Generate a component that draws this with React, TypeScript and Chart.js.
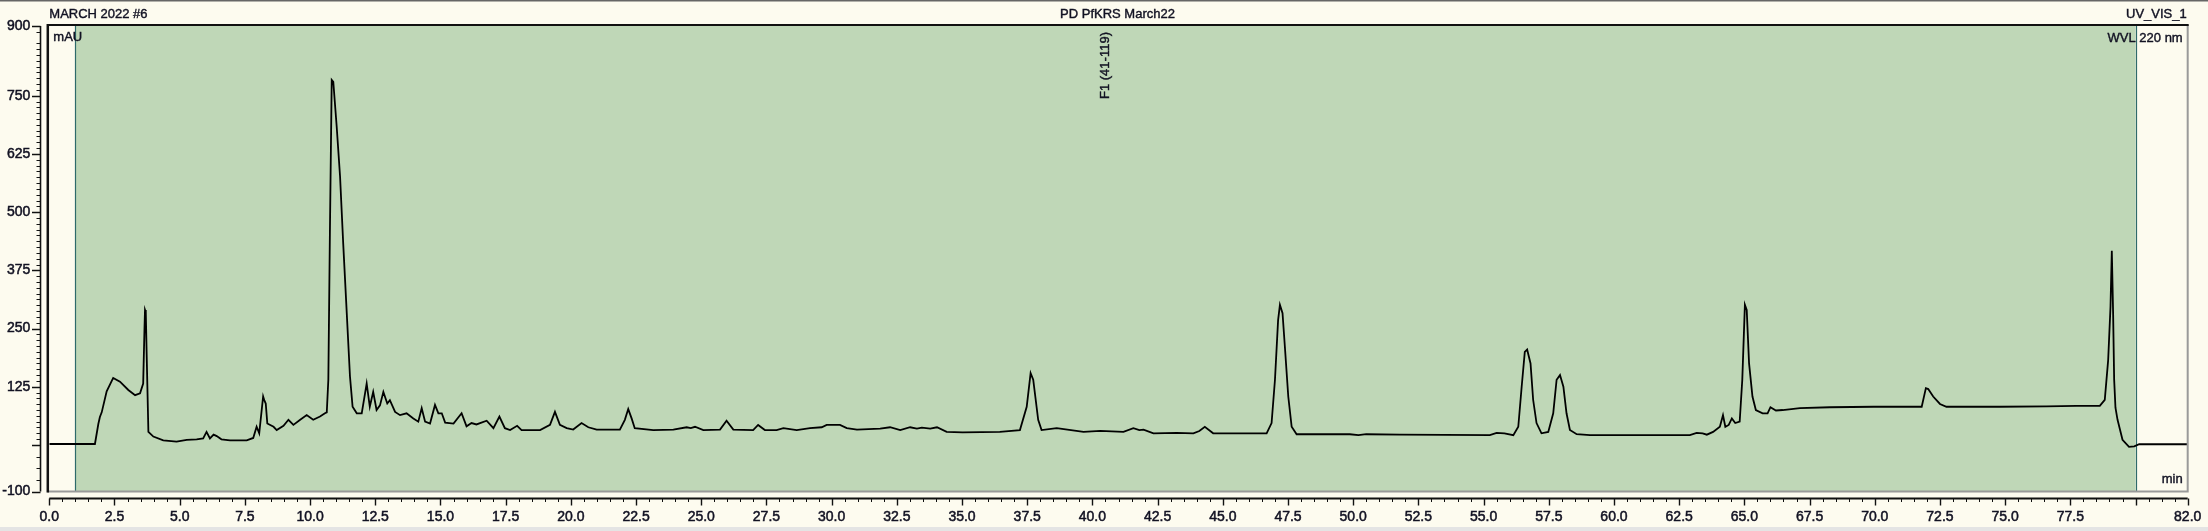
import { useEffect, useRef } from "react";
import { Chart, registerables } from "chart.js";

Chart.register(...registerables);

// ---- Data (retention time in min, absorbance in mAU) ----
const earlyTimes = [0, 1.75, 1.88, 1.94, 2.01, 2.2, 2.45, 2.71, 3.03, 3.29, 3.48, 3.6, 3.65, 3.67, 3.7, 3.73, 3.8, 3.99, 4.37, 4.88, 5.27, 5.65, 5.9, 6.03, 6.16, 6.3, 6.42, 6.6, 6.93, 7.57, 7.82, 7.95, 8.05, 8.2, 8.25, 8.3, 8.36, 8.6, 8.72, 8.98, 9.17, 9.36, 9.62, 9.87, 10.12, 10.38, 10.57, 10.64, 10.7, 10.76, 10.83, 10.89, 11.02, 11.15, 11.27, 11.4, 11.53, 11.63, 11.79, 11.98];
const earlyValues = [2, 2, 45, 60, 70, 115, 144, 136, 118, 107, 111, 132, 250, 290, 285, 204, 28, 18, 10, 7, 11, 12, 14, 28, 14, 22, 19, 12, 10, 10, 15, 39, 25, 104, 95, 89, 46, 39, 32, 41, 54, 43, 54, 64, 54, 61, 68, 70, 140, 455, 784, 780, 684, 576, 433, 290, 147, 82, 68, 68];

const midTimes = [12.17, 12.29, 12.42, 12.55, 12.68, 12.81, 12.96, 13.06, 13.26, 13.45, 13.7, 13.96, 14.15, 14.28, 14.41, 14.6, 14.79, 14.92, 15.05, 15.18, 15.5, 15.81, 16.0, 16.19, 16.38, 16.77, 17.03, 17.26, 17.47, 17.67, 17.94, 18.11, 18.82, 19.2, 19.39, 19.58, 19.84, 20.09, 20.41, 20.67, 20.99, 21.88, 22.07, 22.2, 22.33, 22.45, 23.16, 23.93, 24.44, 24.6, 24.76, 25.08, 25.72, 25.97, 26.23, 26.99, 27.18, 27.44, 27.89, 28.15, 28.66, 29.17, 29.62, 29.81, 30.32, 30.58, 30.97, 31.86, 32.24, 32.63, 33.01, 33.27, 33.46, 33.78, 34.04, 34.41, 35.02];
const midValues = [132, 82, 114, 75, 85, 114, 89, 96, 71, 64, 68, 57, 50, 79, 50, 46, 86, 68, 68, 48, 46, 68, 40, 47, 44, 52, 36, 61, 36, 32, 41, 32, 32, 43, 71, 43, 36, 33, 47, 38, 33, 33, 54, 77, 57, 36, 32, 33, 38, 36, 39, 32, 33, 52, 33, 32, 43, 32, 32, 36, 32, 36, 38, 43, 43, 36, 33, 35, 38, 32, 38, 35, 37, 35, 38, 28, 27];

const lateTimes = [36.45, 37.22, 37.48, 37.63, 37.73, 37.92, 38.05, 38.63, 39.66, 40.3, 41.19, 41.57, 41.8, 41.96, 42.34, 43.23, 43.87, 44.1, 44.31, 44.63, 46.68, 46.87, 47.0, 47.12, 47.19, 47.29, 47.38, 47.51, 47.64, 47.83, 49.87, 50.2, 50.5, 51.79, 55.24, 55.5, 55.8, 56.14, 56.33, 56.46, 56.58, 56.67, 56.8, 56.9, 57.03, 57.22, 57.48, 57.67, 57.8, 57.93, 58.06, 58.18, 58.31, 58.57, 59.08, 62.91, 63.17, 63.4, 63.56, 63.8, 64.06, 64.18, 64.27, 64.4, 64.52, 64.65, 64.82, 64.92, 65.02, 65.09, 65.18, 65.31, 65.44, 65.7, 65.89, 66.0, 66.21, 66.47];
const lateValues = [28, 32, 82, 154, 140, 54, 32, 36, 28, 30, 28, 36, 32, 33, 25, 26, 25, 30, 39, 25, 25, 47, 140, 268, 301, 283, 211, 104, 39, 23, 23, 21, 23, 22, 21, 26, 25, 21, 39, 125, 200, 205, 175, 97, 47, 25, 28, 68, 140, 150, 125, 68, 32, 23, 21, 21, 26, 25, 22, 28, 39, 64, 39, 43, 57, 47, 50, 140, 301, 290, 175, 104, 75, 68, 68, 81, 74, 75];

const tailTimes = [67.13, 68.28, 69.96, 71.8, 71.96, 72.05, 72.24, 72.5, 72.75, 74.8, 76.58, 77.73, 78.63, 78.82, 78.95, 79.04, 79.09, 79.14, 79.18, 79.23, 79.31, 79.5, 79.75, 79.95, 80.14, 82];
const tailValues = [79, 81, 82, 82, 122, 120, 104, 88, 82, 82, 83, 84, 84, 97, 182, 297, 417, 283, 140, 80, 54, 11, -4, -3, 1.5, 1.5];

const xLabelTicks = [0, 2.5, 5, 7.5, 10, 12.5, 15, 17.5, 20, 22.5, 25, 27.5, 30, 32.5, 35, 37.5, 40, 42.5, 45, 47.5, 50, 52.5, 55, 57.5, 60, 62.5, 65, 67.5, 70, 72.5, 75, 77.5, 82];
const xMajorTicks = [0, 2.5, 5, 7.5, 10, 12.5, 15, 17.5, 20, 22.5, 25, 27.5, 30, 32.5, 35, 37.5, 40, 42.5, 45, 47.5, 50, 52.5, 55, 57.5, 60, 62.5, 65, 67.5, 70, 72.5, 75, 77.5, 80, 82];
const yLabelTicks = [-100, 125, 250, 375, 500, 625, 750, 900];
const yMajorTicks = [-100, 0, 125, 250, 375, 500, 625, 750, 900];

const chartTitleLeft = "MARCH 2022 #6";
const chartTitleCenter = "PD PfKRS March22";
const chartTitleRight = "UV_VIS_1";
const yUnit = "mAU";
const xUnit = "min";
const wavelengthLabel = "WVL 220 nm";
const peakLabel = "F1 (41-119)";
const peakLabelTime = 40.5;
const greenStart = 1.0;
const greenEnd = 80.0;

const BG = "#FDFBEF";
const GREEN = "#BFD7B7";
const TEAL = "#2E6A6A";
const TEXT = "#111122";
const FONT = '"Liberation Sans", Arial, sans-serif';

function drawText(ctx: any, s: string, x: number, y: number) {
  ctx.strokeText(s, x, y);
  ctx.fillText(s, x, y);
}

const decorPlugin = {
  id: "decor",
  beforeDraw(chart: any) {
    const { ctx } = chart;
    const x = chart.scales.x;
    const y = chart.scales.y;
    ctx.save();
    ctx.fillStyle = BG;
    ctx.fillRect(0, 0, chart.width, chart.height);
    const gx0 = x.getPixelForValue(greenStart);
    const gx1 = x.getPixelForValue(greenEnd);
    const gy0 = y.getPixelForValue(900);
    const gy1 = y.getPixelForValue(-100);
    ctx.fillStyle = GREEN;
    ctx.fillRect(gx0, gy0, gx1 - gx0, gy1 - gy0);
    ctx.strokeStyle = TEAL;
    ctx.lineWidth = 1.2;
    ctx.beginPath();
    ctx.moveTo(Math.round(gx0) + 0.5, gy0);
    ctx.lineTo(Math.round(gx0) + 0.5, gy1);
    ctx.moveTo(Math.round(gx1) + 0.5, gy0);
    ctx.lineTo(Math.round(gx1) + 0.5, gy1);
    ctx.stroke();
    ctx.restore();
  },
  afterDraw(chart: any) {
    const { ctx } = chart;
    const x = chart.scales.x;
    const y = chart.scales.y;
    const left = x.getPixelForValue(0);
    const right = x.getPixelForValue(82);
    const top = y.getPixelForValue(900);
    const bottom = y.getPixelForValue(-100);
    ctx.save();
    // frame
    ctx.lineWidth = 2;
    ctx.strokeStyle = "#9a9a9a";
    ctx.beginPath();
    ctx.moveTo(right, top - 1);
    ctx.lineTo(right, bottom + 1);
    ctx.moveTo(left - 2, bottom);
    ctx.lineTo(right + 1, bottom);
    ctx.stroke();
    ctx.strokeStyle = "#111";
    ctx.beginPath();
    ctx.moveTo(left - 2, top - 1);
    ctx.lineTo(right + 1, top - 1);
    ctx.stroke();
    ctx.lineWidth = 2.5;
    ctx.beginPath();
    ctx.moveTo(left - 1.5, top - 2);
    ctx.lineTo(left - 1.5, bottom + 1);
    ctx.stroke();

    // y axis
    const ax = 40.5;
    ctx.lineWidth = 1.6;
    ctx.strokeStyle = "#111";
    ctx.beginPath();
    ctx.moveTo(ax, top);
    ctx.lineTo(ax, bottom);
    yMajorTicks.forEach((v) => {
      const py = Math.round(y.getPixelForValue(v)) + 0.5;
      ctx.moveTo(32, py);
      ctx.lineTo(ax, py);
    });
    ctx.stroke();
    ctx.lineWidth = 1;
    ctx.beginPath();
    for (let k = 1; k < 72; k++) {
      const v = k * 12.5;
      if (v % 125 === 0 || v >= 900) continue;
      const py = Math.round(y.getPixelForValue(v)) + 0.5;
      ctx.moveTo(36.5, py);
      ctx.lineTo(ax, py);
    }
    for (let v = -75; v < 0; v += 25) {
      const py = Math.round(y.getPixelForValue(v)) + 0.5;
      ctx.moveTo(36.5, py);
      ctx.lineTo(ax, py);
    }
    ctx.stroke();

    // x axis
    const ay = 498.5;
    ctx.lineWidth = 1.8;
    ctx.beginPath();
    ctx.moveTo(left, ay);
    ctx.lineTo(right, ay);
    ctx.stroke();
    ctx.lineWidth = 1.4;
    ctx.beginPath();
    xMajorTicks.forEach((t) => {
      const px = Math.round(x.getPixelForValue(t)) + 0.5;
      ctx.moveTo(px, ay);
      ctx.lineTo(px, 505.5);
    });
    ctx.stroke();
    ctx.lineWidth = 1;
    ctx.beginPath();
    for (let k = 1; k < 164; k++) {
      const t = k * 0.5;
      if (xMajorTicks.includes(t)) continue;
      const px = Math.round(x.getPixelForValue(t)) + 0.5;
      ctx.moveTo(px, ay);
      ctx.lineTo(px, 502);
    }
    ctx.stroke();

    // texts
    ctx.fillStyle = TEXT;
    ctx.strokeStyle = TEXT;
    ctx.lineWidth = 0.4;
    ctx.font = `13px ${FONT}`;
    ctx.textBaseline = "middle";
    ctx.textAlign = "left";
    drawText(ctx, chartTitleLeft, left, 14);
    drawText(ctx, yUnit, left + 4, 37);
    ctx.textAlign = "center";
    drawText(ctx, chartTitleCenter, 1117.5, 14);
    ctx.textAlign = "right";
    drawText(ctx, chartTitleRight, right - 1, 14);
    drawText(ctx, wavelengthLabel, right - 5, 38);
    drawText(ctx, xUnit, right - 5, 479);

    ctx.translate(x.getPixelForValue(peakLabelTime), 99);
    ctx.rotate(-Math.PI / 2);
    ctx.textAlign = "left";
    drawText(ctx, peakLabel, 0, 0);
    ctx.restore();

    // window border
    ctx.save();
    ctx.fillStyle = "#666";
    ctx.fillRect(0, 0, chart.width, 1.5);
    ctx.fillStyle = "#E4E4E4";
    ctx.fillRect(0, chart.height - 4, chart.width, 4);
    ctx.restore();
  },
};

export default function App() {
  const canvasRef = useRef<HTMLCanvasElement | null>(null);

  useEffect(() => {
    const canvas = canvasRef.current;
    if (!canvas) return;
    const times = [...earlyTimes, ...midTimes, ...lateTimes, ...tailTimes];
    const values = [...earlyValues, ...midValues, ...lateValues, ...tailValues];
    const points = times.map((t, i) => ({ x: t, y: values[i] }));

    const chart = new Chart(canvas, {
      type: "line",
      data: {
        datasets: [
          {
            data: points,
            borderColor: "#000",
            borderWidth: 1.8,
            pointRadius: 0,
            tension: 0,
            fill: false,
          },
        ],
      },
      options: {
        animation: false,
        responsive: false,
        maintainAspectRatio: false,
        layout: { padding: { left: 0, right: 20.3, top: 25.9, bottom: 0 } },
        plugins: {
          legend: { display: false },
          tooltip: { enabled: false },
          title: { display: false },
        },
        scales: {
          x: {
            type: "linear",
            min: 0,
            max: 82,
            grid: { display: false, drawTicks: false },
            border: { display: false },
            afterBuildTicks: (s: any) => {
              s.ticks = xLabelTicks.map((v) => ({ value: v }));
            },
            afterFit: (s: any) => {
              s.height = 39.5;
              s.paddingLeft = 0;
              s.paddingRight = 0;
            },
            ticks: {
              autoSkip: false,
              maxRotation: 0,
              minRotation: 0,
              padding: 17,
              color: TEXT,
              textStrokeColor: TEXT,
              textStrokeWidth: 0.5,
              font: { family: FONT, size: 14 },
              callback: (v: any) => Number(v).toFixed(1),
            },
          },
          y: {
            type: "linear",
            min: -100,
            max: 900,
            grid: { display: false, drawTicks: false },
            border: { display: false },
            afterBuildTicks: (s: any) => {
              s.ticks = yLabelTicks.map((v) => ({ value: v }));
            },
            afterFit: (s: any) => {
              s.width = 49.3;
              s.paddingTop = 0;
              s.paddingBottom = 0;
            },
            ticks: {
              autoSkip: false,
              padding: 19,
              color: TEXT,
              textStrokeColor: TEXT,
              textStrokeWidth: 0.5,
              font: { family: FONT, size: 14 },
              callback: (v: any) => String(v),
            },
          },
        },
      },
      plugins: [decorPlugin],
    });
    return () => chart.destroy();
  }, []);

  return (
    <div style={{ position: "absolute", left: 0, top: 0, width: 2208, height: 531, background: BG }}>
      <canvas ref={canvasRef} width={2208} height={531} style={{ display: "block", width: 2208, height: 531 }} />
    </div>
  );
}
